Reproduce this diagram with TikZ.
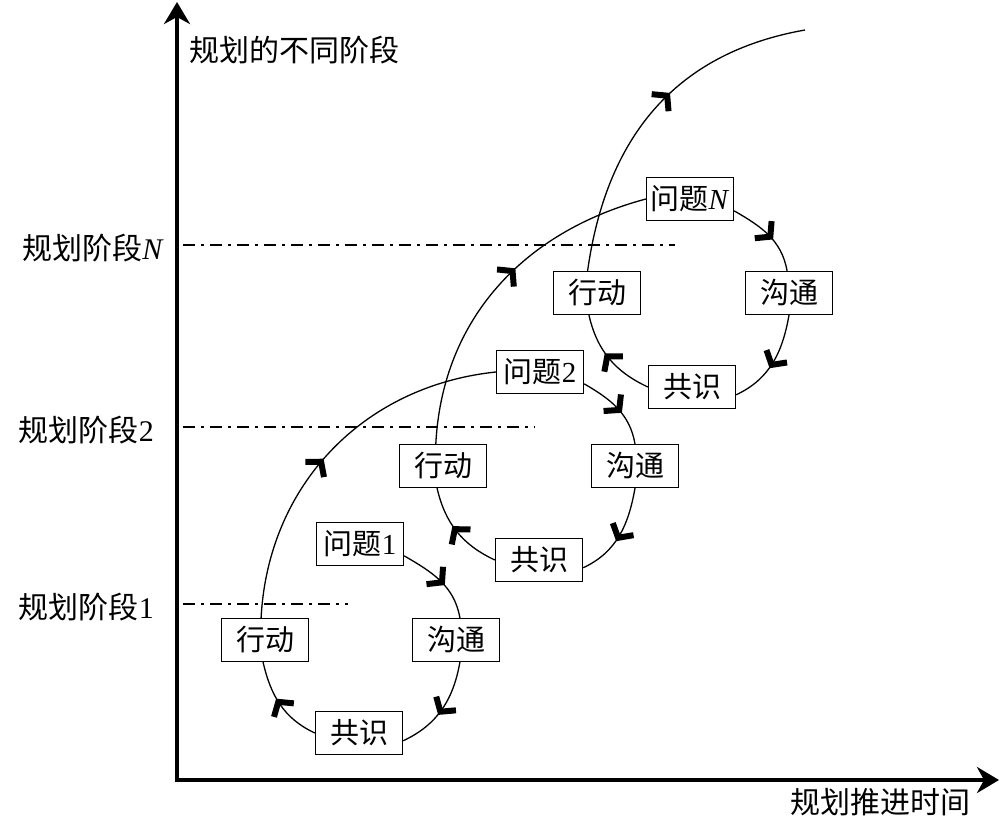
\documentclass[tikz,border=0pt]{standalone}
\usepackage{fontspec}
\setmainfont{Liberation Serif}
\newfontfamily\cjk{Noto Sans CJK SC}
\usetikzlibrary{arrows.meta,decorations.markings}
\tikzset{
  box/.style={draw, line width=1.3pt, fill=white, minimum width=87pt, minimum height=43pt, inner sep=2pt, font=\fontsize{29pt}{34pt}\selectfont},
  lbl/.style={inner sep=0pt, font=\fontsize{30pt}{36pt}\selectfont},
  axis/.style={line width=4pt, -{Stealth[length=22pt,width=26pt,inset=7pt]}},
  guide/.style={line width=2.5pt, dash pattern=on 12pt off 6pt on 3pt off 6pt},
  chevron/.style={line width=6pt, line cap=butt, line join=miter, solid},
  flow/.style={line width=1.3pt, postaction={decorate}, decoration={markings, mark=at position #1 with {\draw[chevron] (-7,12) -- (3,0) -- (-7,-12);}}},
  flow/.default=0.5
}
\begin{document}
\begin{tikzpicture}[x=1pt,y=1pt]
\useasboundingbox (0,0) rectangle (1000,-821);
% axes
\coordinate (yb) at (177,-782);
\coordinate (ytop) at (177,-2);
\coordinate (xb) at (175,-780);
\coordinate (xend) at (999,-780);
\draw[axis] (yb) -- (ytop);
\draw[axis] (xb) -- (xend);
\node[lbl, anchor=west] (ylab) at (189,-50) {\cjk 规划的不同阶段};
\node[lbl, anchor=east] (xlab) at (971,-802) {\cjk 规划推进时间};
% stage guides
\coordinate (d1s) at (183,-604); \coordinate (d1e) at (348,-604);
\coordinate (d2s) at (183,-427); \coordinate (d2e) at (535,-427);
\coordinate (dNs) at (183,-245); \coordinate (dNe) at (675,-245);
\draw[guide] (d1s) -- (d1e);
\draw[guide] (d2s) -- (d2e);
\draw[guide] (dNs) -- (dNe);
\node[lbl, anchor=east] (l1) at (154,-607) {{\cjk 规划阶段}1};
\node[lbl, anchor=east] (l2) at (154,-430) {{\cjk 规划阶段}2};
\node[lbl, anchor=east] (lN) at (164,-248) {{\cjk 规划阶段}\textit{N}};
% loop 1
\node[box] (w1) at (360,-544) {{\cjk 问题}1};
\node[box] (h1) at (265,-640) {\cjk 行动};
\node[box] (t1) at (456,-640) {\cjk 沟通};
\node[box] (s1) at (359,-733) {\cjk 共识};
% loop 2
\node[box] (w2) at (540,-372) {{\cjk 问题}2};
\node[box] (h2) at (443,-466) {\cjk 行动};
\node[box] (t2) at (635,-466) {\cjk 沟通};
\node[box] (s2) at (539,-560) {\cjk 共识};
% loop N
\node[box] (wN) at (690,-199) {{\cjk 问题}\textit{N}};
\node[box] (hN) at (597,-293) {\cjk 行动};
\node[box] (tN) at (789,-293) {\cjk 沟通};
\node[box] (sN) at (692,-387) {\cjk 共识};
\coordinate (fin) at (805,-30);
% connectors loop 1
\draw[flow] (w1.-15) to[out=-30,in=100] (t1.80);
\draw[flow] (t1.-80) to[out=-100,in=25] (s1.-10);
\draw[flow] (s1.west) to[out=155,in=-77] (h1.-95);
\draw[flow=0.45] (h1.100) to[out=87,in=186] (w2.west);
% loop 2
\draw[flow] (w2.-15) to[out=-30,in=100] (t2.north);
\draw[flow] (t2.south) to[out=-100,in=25] (s2.-10);
\draw[flow] (s2.west) to[out=155,in=-77] (h2.-105);
\draw[flow=0.55] (h2.108) to[out=87,in=195] (wN.west);
% loop N
\draw[flow] (wN.-15) to[out=-30,in=100] (tN.95);
\draw[flow] (tN.south) to[out=-100,in=25] (sN.-10);
\draw[flow] (sN.west) to[out=155,in=-77] (hN.-110);
\draw[flow=0.55] (hN.113) to[out=82,in=190,looseness=1.05] (fin);
\end{tikzpicture}
\end{document}
